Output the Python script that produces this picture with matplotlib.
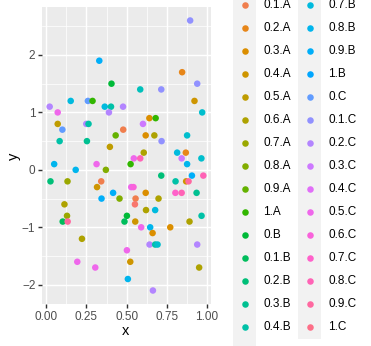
import numpy as np
import matplotlib
matplotlib.use("Agg")
import matplotlib.pyplot as plt
from matplotlib.patches import Rectangle

plt.rcParams['font.family'] = ['Liberation Sans', 'DejaVu Sans']

# factor levels, in legend order
levels = ["0.A", "0.1.A", "0.2.A", "0.3.A", "0.4.A", "0.5.A", "0.6.A", "0.7.A", "0.8.A", "0.9.A", "1.A",
          "0.B", "0.1.B", "0.2.B", "0.3.B", "0.4.B", "0.5.B", "0.6.B", "0.7.B", "0.8.B", "0.9.B", "1.B",
          "0.C", "0.1.C", "0.2.C", "0.3.C", "0.4.C", "0.5.C", "0.6.C", "0.7.C", "0.8.C", "0.9.C", "1.C"]

# points
x_vals = [0.896, 0.330, 0.846, 0.406, 0.940, 0.585, 0.716, 0.923, 0.152, 0.259,
          0.288, 0.021, 0.364, 0.403, 0.478, 0.071, 0.390, 0.971, 0.071, 0.249,
          0.263, 0.602, 0.100, 0.479, 0.642, 0.681, 0.083, 0.253, 0.718, 0.432,
          0.619, 0.673, 0.877, 0.396, 0.607, 0.815, 0.869, 0.545, 0.585, 0.843,
          0.966, 0.313, 0.049, 0.525, 0.877, 0.183, 0.371, 0.716, 0.907, 0.978,
          0.026, 0.132, 0.805, 0.871, 0.886, 0.342, 0.316, 0.529, 0.543, 0.416,
          0.619, 0.804, 0.843, 0.936, 0.344, 0.456, 0.556, 0.699, 0.113, 0.552,
          0.621, 0.678, 0.502, 0.967, 0.129, 0.102, 0.133, 0.487, 0.554, 0.892,
          0.591, 0.647, 0.772, 0.662, 0.222, 0.643, 0.678, 0.693, 0.940, 0.502,
          0.193, 0.523, 0.305, 0.952, 0.508, 0.664]
y_vals = [2.6, 1.9, 1.7, 1.5, 1.5, 1.4, 1.4, 1.2, 1.2, 1.2,
          1.2, 1.1, 1.1, 1.1, 1.1, 1.0, 1.0, 1.0, 0.8, 0.8,
          0.8, 0.8, 0.7, 0.7, 0.9, 0.9, 0.5, 0.5, 0.5, 0.6,
          0.6, 0.6, 0.6, 0.4, 0.3, 0.3, 0.3, 0.2, 0.2, 0.2,
          0.2, 0.1, 0.1, 0.1, 0.1, 0.0, 0.0, -0.1, -0.1, -0.1,
          -0.2, -0.2, -0.2, -0.2, -0.2, -0.2, -0.3, -0.3, -0.3, -0.4,
          -0.4, -0.4, -0.4, -0.4, -0.5, -0.5, -0.5, -0.5, -0.6, -0.6,
          -0.7, -0.7, -0.8, -0.8, -0.8, -0.9, -0.9, -0.9, -0.9, -0.9,
          -1.0, -1.0, -1.0, -1.1, -1.2, -1.3, -1.3, -1.3, -1.3, -1.4,
          -1.6, -1.6, -1.7, -1.7, -1.9, -2.1]
groups = ["0.1.C", "0.9.B", "0.2.A", "0.B", "0.1.C", "0.5.B", "0.1.C", "0.4.A", "0.7.B", "0.C",
          "1.A", "0.2.C", "0.7.B", "0.4.B", "0.2.C", "0.5.C", "0.2.C", "0.6.B", "0.5.A", "0.2.C",
          "0.4.B", "0.3.C", "0.C", "0.1.A", "0.3.A", "1.A", "0.4.B", "0.3.B", "0.1.C", "0.9.A",
          "0.3.A", "0.6.A", "0.6.B", "0.5.A", "0.6.A", "0.7.B", "0.2.A", "0.5.C", "0.8.C", "0.3.C",
          "0.6.B", "0.5.C", "0.8.B", "1.A", "0.8.B", "0.8.B", "0.8.A", "0.2.B", "0.9.B", "0.8.C",
          "0.2.B", "0.7.A", "0.4.B", "0.4.A", "0.9.C", "0.1.A", "0.4.A", "0.5.C", "0.6.C", "0.9.B",
          "0.3.A", "0.7.C", "0.8.C", "0.3.B", "0.9.B", "0.8.A", "0.1.A", "0.6.A", "0.6.A", "0.A",
          "0.6.A", "0.7.B", "0.B", "0.4.B", "0.7.A", "0.1.B", "0.9.C", "0.1.B", "0.4.A", "0.6.A",
          "0.5.C", "0.8.B", "0.3.A", "0.3.A", "0.6.A", "0.2.C", "0.4.B", "0.6.B", "0.2.C", "0.5.C",
          "0.5.C", "0.4.A", "0.5.C", "0.6.A", "0.8.B", "0.2.C"]


def hcl_hex(h, c=100.0, l=65.0):
    # same conversion as R's hcl()
    wy, wu, wv = 100.0, 0.1978398, 0.4683363
    hr = np.deg2rad(h)
    U, V = c * np.cos(hr), c * np.sin(hr)
    Y = wy * ((l + 16) / 116) ** 3 if l > 7.999592 else wy * l / 903.3
    u = U / (13 * l) + wu
    v = V / (13 * l) + wv
    X = 9.0 * Y * u / (4 * v)
    Z = -X / 3 - 5 * Y + 3 * Y / v
    rgb = [(3.240479 * X - 1.537150 * Y - 0.498535 * Z) / wy,
           (-0.969256 * X + 1.875992 * Y + 0.041556 * Z) / wy,
           (0.055648 * X - 0.204043 * Y + 1.057311 * Z) / wy]
    out = []
    for t in rgb:
        t = 1.055 * t ** (1 / 2.4) - 0.055 if t > 0.00304 else 12.92 * t
        out.append(min(max(t, 0), 1))
    return tuple(out)


n = len(levels)
palette = {lev: hcl_hex(15 + 360 * i / n) for i, lev in enumerate(levels)}

W, H = 371, 346
fig = plt.figure(figsize=(W / 96, H / 96), dpi=96)

# panel in pixel coords
left, right, top, bottom = 42, 211, 7, 304
ax = fig.add_axes([left / W, 1 - bottom / H, (right - left) / W, (bottom - top) / H])
ax.set_facecolor("#EBEBEB")
for s in ax.spines.values():
    s.set_visible(False)

xr = max(x_vals) - min(x_vals)
yr = max(y_vals) - min(y_vals)
ax.set_xlim(min(x_vals) - 0.05 * xr, max(x_vals) + 0.05 * xr)
ax.set_ylim(min(y_vals) - 0.05 * yr, max(y_vals) + 0.05 * yr)

ax.set_xticks([0, 0.25, 0.5, 0.75, 1.0])
ax.set_xticklabels(["0.00", "0.25", "0.50", "0.75", "1.00"])
ax.set_yticks([-2, -1, 0, 1, 2])
ax.set_xticks([0.125, 0.375, 0.625, 0.875], minor=True)
ax.set_yticks([-1.5, -0.5, 0.5, 1.5, 2.5], minor=True)
ax.grid(True, which="major", color="white", linewidth=1.07)
ax.grid(True, which="minor", color="white", linewidth=0.53)
ax.set_axisbelow(True)
ax.tick_params(which="major", length=2.75, width=1.07, color="#333333",
               labelsize=8.8, labelcolor="#4D4D4D", pad=2.2)
ax.tick_params(which="minor", length=0)

cols = [palette[g] for g in groups]
ax.scatter(x_vals, y_vals, c=cols, s=24, linewidths=0, zorder=3)

fig.text(126 / W, 1 - 331 / H, "x", fontsize=11, ha="center", va="center")
fig.text(14 / W, 1 - 156 / H, "y", fontsize=11, ha="center", va="center", rotation=90)

# legend (taller than the figure, so it gets clipped)
lg = fig.add_axes([0, 0, 1, 1])
lg.set_xlim(0, W)
lg.set_ylim(H, 0)
lg.axis("off")
row_h = 23.03
col_x = [233.3, 298.3]
per_col = 17
for i, lev in enumerate(levels):
    c = i // per_col
    r = i % per_col
    yc = 5 - row_h + r * row_h
    x0 = col_x[c]
    lg.add_patch(Rectangle((x0, yc - row_h / 2), 23, row_h, facecolor="#F2F2F2",
                           edgecolor="none"))
    if yc < 0 or yc > H:
        continue  # row falls outside the figure
    lg.scatter([x0 + 11.5], [yc], color=palette[lev], s=24, linewidths=0)
    lg.text(x0 + 30, yc, lev, fontsize=8.8, ha="left", va="center")

fig.savefig("out.png", dpi=96)
